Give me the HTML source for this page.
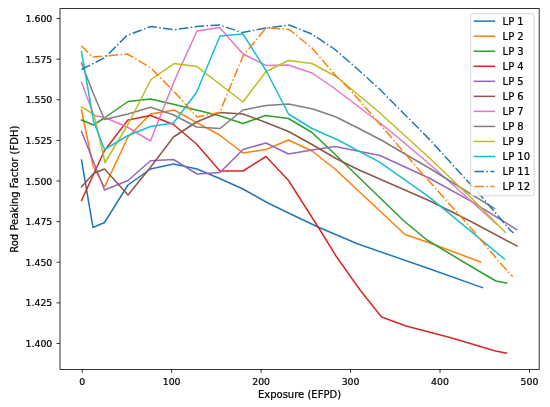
<!DOCTYPE html>
<html><head><meta charset="utf-8"><title>Rod Peaking Factor</title>
<style>
html,body{margin:0;padding:0;background:#fff;}
svg{display:block;}
text{font-family:"DejaVu Sans","Liberation Sans",sans-serif;font-size:10px;fill:#000;stroke:#000;stroke-width:0.22px;}
.tk{font-size:9.35px;}
</style></head><body>
<svg width="550" height="407" viewBox="0 0 550 407">
<rect x="0" y="0" width="550" height="407" fill="#fff"/>
<defs><clipPath id="ax"><rect x="60.0" y="8.6" width="479.20000000000005" height="360.75"/></clipPath></defs>
<g clip-path="url(#ax)" fill="none" stroke-width="1.5" stroke-linejoin="round">
<polyline points="81.5,160.0 93.0,227.5 104.5,222.5 128.0,185.0 150.5,169.0 173.5,164.0 197.0,169.0 219.6,178.5 243.0,189.0 266.0,202.0 288.5,213.0 318.0,227.0 358.0,244.0 430.0,269.0 482.4,287.6" stroke="#1f77b4" stroke-linecap="square"/>
<polyline points="81.5,110.0 93.0,166.0 104.5,187.0 128.0,137.0 150.5,114.0 174.0,110.0 196.5,122.4 219.6,135.0 243.0,153.0 266.0,149.5 288.5,140.0 312.0,151.0 335.0,169.0 405.0,234.5 430.0,243.0 480.5,262.0" stroke="#ff7f0e" stroke-linecap="square"/>
<polyline points="81.5,120.0 93.5,125.0 105.0,117.5 128.0,101.5 150.5,99.0 173.5,104.3 196.5,110.0 219.6,115.7 243.0,123.5 265.5,115.5 288.5,118.5 312.0,132.5 335.0,154.3 404.0,221.0 427.0,240.0 477.0,270.0 496.0,281.0 506.6,283.0" stroke="#2ca02c" stroke-linecap="square"/>
<polyline points="81.5,200.5 104.5,150.5 128.0,120.0 150.5,115.5 173.5,124.5 196.5,144.0 220.0,171.0 243.0,171.0 266.0,156.5 288.5,180.5 320.0,230.0 336.0,256.0 360.0,290.0 381.6,317.0 406.0,326.0 450.0,337.5 495.5,351.0 506.4,353.1" stroke="#d62728" stroke-linecap="square"/>
<polyline points="81.5,131.5 93.0,160.5 104.5,190.0 128.0,180.5 150.5,160.8 173.5,159.5 197.0,174.0 220.0,172.5 243.0,149.5 266.0,143.0 288.5,154.0 312.0,150.0 335.0,146.4 380.0,155.5 430.0,178.5 470.0,200.7 516.5,229.5" stroke="#9467bd" stroke-linecap="square"/>
<polyline points="81.5,187.0 93.5,173.5 104.5,169.0 128.0,195.0 150.5,167.3 173.5,137.0 196.5,122.0 219.6,112.5 243.0,114.0 266.0,122.5 288.5,131.5 312.0,144.5 336.0,158.5 358.0,169.5 430.0,201.0 470.0,221.0 517.0,246.0" stroke="#8c564b" stroke-linecap="square"/>
<polyline points="81.5,82.5 94.0,115.5 105.0,117.5 128.0,127.5 150.5,141.0 173.8,82.0 197.0,31.0 219.6,27.6 243.0,54.0 266.0,65.4 288.5,65.0 312.0,73.0 334.0,88.0 372.0,117.0 389.0,130.0 430.0,164.5 470.0,200.0 497.0,224.5" stroke="#e377c2" stroke-linecap="square"/>
<polyline points="81.5,63.0 93.5,94.0 104.5,119.5 128.0,114.0 150.5,107.2 173.8,115.0 196.5,127.0 220.0,128.5 243.0,110.0 266.0,105.5 288.5,104.0 313.0,109.0 336.0,117.0 359.0,128.5 382.0,140.5 405.0,154.0 430.0,168.5 470.0,193.5 494.5,208.5" stroke="#7f7f7f" stroke-linecap="square"/>
<polyline points="81.5,107.0 94.0,114.5 105.0,162.5 128.0,124.5 151.0,79.5 174.0,63.6 197.0,66.6 219.6,84.0 243.0,102.0 266.0,71.5 288.5,60.5 312.0,63.5 337.0,77.0 380.0,113.0 430.0,158.5 470.0,196.8 505.5,232.5" stroke="#bcbd22" stroke-linecap="square"/>
<polyline points="81.5,51.5 93.5,121.0 104.5,149.5 128.0,135.5 150.5,126.5 173.5,123.0 196.5,92.5 220.0,36.0 243.0,34.0 266.0,70.5 288.5,114.0 312.0,128.5 338.0,140.0 380.0,162.3 430.0,197.7 504.5,259.0" stroke="#17becf" stroke-linecap="square"/>
<polyline points="81.5,69.5 105.0,57.5 127.0,35.4 151.0,26.5 174.0,29.8 197.0,26.5 219.6,25.0 242.4,32.6 266.0,28.0 289.0,25.0 312.0,34.0 335.0,49.5 358.0,69.5 380.0,89.5 430.0,140.0 482.0,197.0 510.0,230.0 513.5,233.0" stroke="#1f77b4" stroke-dasharray="9.6 2.4 1.5 2.4" stroke-linecap="butt"/>
<polyline points="81.5,45.8 92.5,57.0 105.0,56.0 127.5,54.0 150.5,67.7 174.0,91.5 197.0,117.0 219.6,112.5 243.0,56.0 266.0,28.0 289.0,29.4 312.0,48.0 336.0,76.0 349.0,88.5 385.0,130.0 419.0,170.0 438.0,191.0 470.0,227.0 502.0,265.0 512.6,276.6" stroke="#ff7f0e" stroke-dasharray="9.6 2.4 1.5 2.4" stroke-linecap="butt"/>
</g>
<g stroke="#000" stroke-width="0.8" fill="none">
<line x1="82.20" y1="369.35" x2="82.20" y2="372.85"/>
<line x1="171.66" y1="369.35" x2="171.66" y2="372.85"/>
<line x1="261.12" y1="369.35" x2="261.12" y2="372.85"/>
<line x1="350.58" y1="369.35" x2="350.58" y2="372.85"/>
<line x1="440.04" y1="369.35" x2="440.04" y2="372.85"/>
<line x1="529.50" y1="369.35" x2="529.50" y2="372.85"/>
<line x1="60.0" y1="343.47" x2="56.5" y2="343.47"/>
<line x1="60.0" y1="302.86" x2="56.5" y2="302.86"/>
<line x1="60.0" y1="262.24" x2="56.5" y2="262.24"/>
<line x1="60.0" y1="221.63" x2="56.5" y2="221.63"/>
<line x1="60.0" y1="181.01" x2="56.5" y2="181.01"/>
<line x1="60.0" y1="140.40" x2="56.5" y2="140.40"/>
<line x1="60.0" y1="99.78" x2="56.5" y2="99.78"/>
<line x1="60.0" y1="59.17" x2="56.5" y2="59.17"/>
<line x1="60.0" y1="18.55" x2="56.5" y2="18.55"/>
<rect x="60.0" y="8.6" width="479.2" height="360.8" stroke-linejoin="miter"/>
</g>
<text x="82.20" y="384.7" text-anchor="middle" class="tk" transform="rotate(0.02 82.20 384.7)">0</text>
<text x="171.66" y="384.7" text-anchor="middle" class="tk" transform="rotate(0.02 171.66 384.7)">100</text>
<text x="261.12" y="384.7" text-anchor="middle" class="tk" transform="rotate(0.02 261.12 384.7)">200</text>
<text x="350.58" y="384.7" text-anchor="middle" class="tk" transform="rotate(0.02 350.58 384.7)">300</text>
<text x="440.04" y="384.7" text-anchor="middle" class="tk" transform="rotate(0.02 440.04 384.7)">400</text>
<text x="529.50" y="384.7" text-anchor="middle" class="tk" transform="rotate(0.02 529.50 384.7)">500</text>
<text x="52.3" y="347.07" text-anchor="end" class="tk" transform="rotate(0.02 52.3 347.07)">1.400</text>
<text x="52.3" y="306.46" text-anchor="end" class="tk" transform="rotate(0.02 52.3 306.46)">1.425</text>
<text x="52.3" y="265.84" text-anchor="end" class="tk" transform="rotate(0.02 52.3 265.84)">1.450</text>
<text x="52.3" y="225.23" text-anchor="end" class="tk" transform="rotate(0.02 52.3 225.23)">1.475</text>
<text x="52.3" y="184.61" text-anchor="end" class="tk" transform="rotate(0.02 52.3 184.61)">1.500</text>
<text x="52.3" y="144.00" text-anchor="end" class="tk" transform="rotate(0.02 52.3 144.00)">1.525</text>
<text x="52.3" y="103.38" text-anchor="end" class="tk" transform="rotate(0.02 52.3 103.38)">1.550</text>
<text x="52.3" y="62.77" text-anchor="end" class="tk" transform="rotate(0.02 52.3 62.77)">1.575</text>
<text x="52.3" y="22.15" text-anchor="end" class="tk" transform="rotate(0.02 52.3 22.15)">1.600</text>
<text x="299.5" y="398.0" text-anchor="middle" transform="rotate(0.02 299.5 398)">Exposure (EFPD)</text>
<text transform="translate(17.7,189.2) rotate(-90)" text-anchor="middle">Rod Peaking Factor (FDH)</text>
<rect x="470.6" y="13.8" width="63.6" height="182.0" rx="2" ry="2" fill="#fff" fill-opacity="0.8" stroke="#ccc" stroke-width="0.8"/>
<line x1="474.4" y1="21.15" x2="494.4" y2="21.15" stroke="#1f77b4" stroke-width="1.5" stroke-linecap="square"/>
<text x="502.6" y="24.65" transform="rotate(0.02 502.6 24.65)">LP 1</text>
<line x1="474.4" y1="36.19" x2="494.4" y2="36.19" stroke="#ff7f0e" stroke-width="1.5" stroke-linecap="square"/>
<text x="502.6" y="39.69" transform="rotate(0.02 502.6 39.69)">LP 2</text>
<line x1="474.4" y1="51.23" x2="494.4" y2="51.23" stroke="#2ca02c" stroke-width="1.5" stroke-linecap="square"/>
<text x="502.6" y="54.73" transform="rotate(0.02 502.6 54.73)">LP 3</text>
<line x1="474.4" y1="66.27" x2="494.4" y2="66.27" stroke="#d62728" stroke-width="1.5" stroke-linecap="square"/>
<text x="502.6" y="69.77" transform="rotate(0.02 502.6 69.77)">LP 4</text>
<line x1="474.4" y1="81.31" x2="494.4" y2="81.31" stroke="#9467bd" stroke-width="1.5" stroke-linecap="square"/>
<text x="502.6" y="84.81" transform="rotate(0.02 502.6 84.81)">LP 5</text>
<line x1="474.4" y1="96.35" x2="494.4" y2="96.35" stroke="#8c564b" stroke-width="1.5" stroke-linecap="square"/>
<text x="502.6" y="99.85" transform="rotate(0.02 502.6 99.85)">LP 6</text>
<line x1="474.4" y1="111.39" x2="494.4" y2="111.39" stroke="#e377c2" stroke-width="1.5" stroke-linecap="square"/>
<text x="502.6" y="114.89" transform="rotate(0.02 502.6 114.89)">LP 7</text>
<line x1="474.4" y1="126.43" x2="494.4" y2="126.43" stroke="#7f7f7f" stroke-width="1.5" stroke-linecap="square"/>
<text x="502.6" y="129.93" transform="rotate(0.02 502.6 129.93)">LP 8</text>
<line x1="474.4" y1="141.47" x2="494.4" y2="141.47" stroke="#bcbd22" stroke-width="1.5" stroke-linecap="square"/>
<text x="502.6" y="144.97" transform="rotate(0.02 502.6 144.97)">LP 9</text>
<line x1="474.4" y1="156.51" x2="494.4" y2="156.51" stroke="#17becf" stroke-width="1.5" stroke-linecap="square"/>
<text x="502.6" y="160.01" transform="rotate(0.02 502.6 160.01)">LP 10</text>
<line x1="474.4" y1="171.55" x2="494.4" y2="171.55" stroke="#1f77b4" stroke-width="1.5" stroke-dasharray="9.6 2.4 1.5 2.4"/>
<text x="502.6" y="175.05" transform="rotate(0.02 502.6 175.05)">LP 11</text>
<line x1="474.4" y1="186.59" x2="494.4" y2="186.59" stroke="#ff7f0e" stroke-width="1.5" stroke-dasharray="9.6 2.4 1.5 2.4"/>
<text x="502.6" y="190.09" transform="rotate(0.02 502.6 190.09)">LP 12</text>
</svg>
</body></html>
